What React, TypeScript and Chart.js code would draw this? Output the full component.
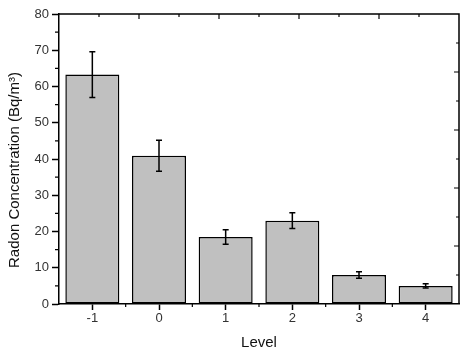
import React, { useEffect, useRef } from 'react';
import { Chart, registerables } from 'chart.js';
Chart.register(...registerables);

const levels = ['-1', '0', '1', '2', '3', '4'];
const radon = [63.3, 40.9, 18.5, 23.0, 8.0, 5.0];
const radonErr = [6.3, 4.3, 2.0, 2.2, 0.9, 0.6];
const yTitle = 'Radon Concentration (Bq/m\u00B3)';
const xTitle = 'Level';
const yMinorTicks = [5, 15, 25, 35, 45, 55, 65, 75];

const FONT = '"Liberation Sans", Arial, sans-serif';

const extrasPlugin = {
  id: 'extras',
  afterDatasetsDraw(chart: any) {
    const ctx = chart.ctx;
    const meta = chart.getDatasetMeta(0);
    const ys = chart.scales.y;
    ctx.save();
    ctx.strokeStyle = '#000';
    ctx.lineWidth = 1.5;
    meta.data.forEach((bar: any, i: number) => {
      const x = bar.x;
      const yTop = ys.getPixelForValue(radon[i] + radonErr[i]);
      const yBot = ys.getPixelForValue(radon[i] - radonErr[i]);
      ctx.beginPath();
      ctx.moveTo(x, yTop);
      ctx.lineTo(x, yBot);
      ctx.moveTo(x - 3, yTop);
      ctx.lineTo(x + 3, yTop);
      ctx.moveTo(x - 3, yBot);
      ctx.lineTo(x + 3, yBot);
      ctx.stroke();
    });
    ctx.restore();
  },
  afterDraw(chart: any) {
    const ctx = chart.ctx;
    const { left, right, top, bottom } = chart.chartArea;
    const xs = chart.scales.x;
    const ys = chart.scales.y;
    ctx.save();
    ctx.strokeStyle = '#000';
    ctx.lineWidth = 1.5;
    // frame top & right
    ctx.beginPath();
    ctx.moveTo(left, top);
    ctx.lineTo(right, top);
    ctx.lineTo(right, bottom);
    ctx.stroke();
    ctx.lineWidth = 1.2;
    ctx.beginPath();
    // top & right inward ticks
    for (let k = 1; k < 10; k++) {
      const len = k % 2 === 0 ? 5 : 3;
      const tx = left + ((right - left) * k) / 10;
      ctx.moveTo(tx, top);
      ctx.lineTo(tx, top + len);
      const ty = top + ((bottom - top) * k) / 10;
      ctx.moveTo(right, ty);
      ctx.lineTo(right - len, ty);
    }
    // left minor ticks
    yMinorTicks.forEach((v) => {
      const py = ys.getPixelForValue(v);
      ctx.moveTo(left, py);
      ctx.lineTo(left - 4, py);
    });
    // bottom minor ticks
    for (let i = 0; i < levels.length - 1; i++) {
      const px = xs.getPixelForValue(i + 0.5);
      ctx.moveTo(px, bottom);
      ctx.lineTo(px, bottom + 3);
    }
    ctx.stroke();
    // titles
    ctx.fillStyle = '#111';
    ctx.font = '15px ' + FONT;
    ctx.textAlign = 'center';
    ctx.textBaseline = 'middle';
    ctx.fillText(xTitle, (left + right) / 2, 343);
    ctx.translate(15, 170);
    ctx.rotate(-Math.PI / 2);
    ctx.fillText(yTitle, 0, 0);
    ctx.restore();
  },
};

export default function App() {
  const ref = useRef<HTMLCanvasElement | null>(null);
  useEffect(() => {
    if (!ref.current) return;
    const chart = new Chart(ref.current, {
      type: 'bar',
      data: {
        labels: levels,
        datasets: [
          {
            data: radon,
            backgroundColor: '#c0c0c0',
            borderColor: '#000',
            borderWidth: 1.5,
            borderSkipped: false,
            categoryPercentage: 1,
            barPercentage: 0.81,
          },
        ],
      },
      options: {
        animation: false,
        responsive: true,
        maintainAspectRatio: false,
        layout: { padding: { left: 0, top: 14, right: 15, bottom: 0 } },
        plugins: { legend: { display: false }, tooltip: { enabled: false } },
        scales: {
          x: {
            offset: true,
            grid: {
              offset: false,
              drawOnChartArea: false,
              drawTicks: true,
              tickLength: 6,
              tickWidth: 1.5,
              tickColor: '#000',
            },
            border: { color: '#000', width: 1.5 },
            ticks: { color: '#333', font: { family: FONT, size: 13 }, padding: 1 },
            afterFit: (s: any) => {
              s.height = 53;
            },
          },
          y: {
            min: 0,
            max: 80,
            grid: {
              drawOnChartArea: false,
              tickLength: 7,
              tickWidth: 1.5,
              tickColor: '#000',
            },
            border: { color: '#000', width: 1.5 },
            ticks: { stepSize: 10, color: '#333', font: { family: FONT, size: 13 }, padding: 3 },
            afterFit: (s: any) => {
              s.width = 59;
            },
          },
        },
      },
      plugins: [extrasPlugin],
    });
    return () => chart.destroy();
  }, []);
  return (
    <div style={{ position: 'fixed', left: 0, top: 0, width: 474, height: 357, background: '#fff' }}>
      <canvas ref={ref} />
    </div>
  );
}
